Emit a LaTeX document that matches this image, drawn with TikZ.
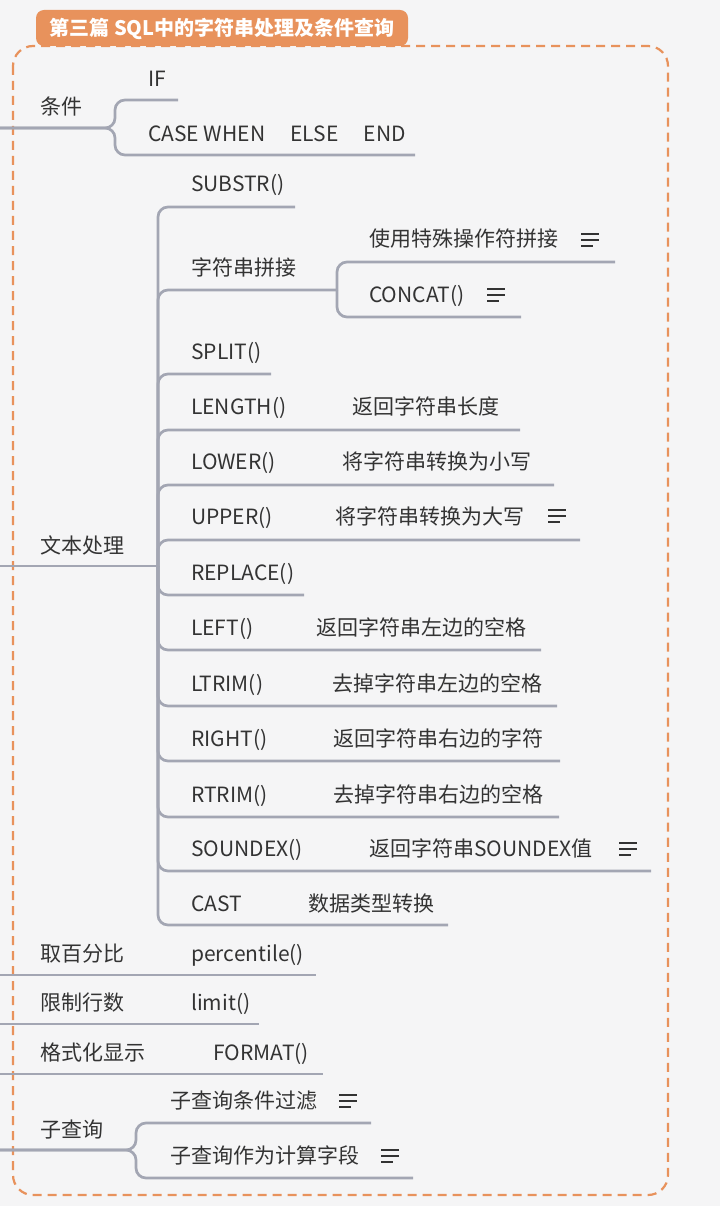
\documentclass[tikz,border=0pt]{standalone}
\usepackage{fontspec}
\setmainfont{Noto Sans CJK SC}
\definecolor{bg}{HTML}{F5F5F6}
\definecolor{ln}{HTML}{A3A6B3}
\definecolor{org}{HTML}{E8925C}
\definecolor{txt}{HTML}{333333}
\tikzset{
  br/.style={draw=ln,line width=2.7pt,rounded corners=10pt},
  lbl/.style={anchor=base west,inner sep=0pt,text=txt,font=\fontsize{21}{21}\selectfont},
  ic/.style={draw=txt,line width=1.3pt}
}
\newcommand\lf[4]{\node[lbl] (#1) at (#2,#3) {#4};}
\newcommand\note[3]{\draw[ic] (#2,#3-6)--++(18,0); \draw[ic] (#2,#3)--++(18,0); \draw[ic] (#2,#3+6)--++(12,0); \coordinate (#1) at (#2,#3);}
\begin{document}
\begin{tikzpicture}[x=1pt,y=-1pt]
\fill[bg] (0,0) rectangle (720,1206);
\useasboundingbox (0,0) rectangle (720,1206);
% title tab
\fill[org,rounded corners=8pt] (36,46) -- (36,10) -- (408,10) -- (408,46) -- cycle;
\node[text=white,font=\bfseries\fontsize{20}{20}\selectfont] (title) at (222,29) {第三篇 SQL中的字符串处理及条件查询};
\draw[org,line width=2.2pt,dash pattern=on 9pt off 6pt,rounded corners=20pt] (13,46) rectangle (668,1195);
% 条件
\coordinate (r1) at (0,128);
\draw[br] (r1) -- (115,128) -- (115,100) -- (178,100) coordinate (ifE);
\draw[br] (r1) -- (115,128) -- (115,155) -- (415,155) coordinate (caseE);
\lf{c1}{40}{115}{条件}
\lf{if}{148}{87}{IF}
\lf{case}{148}{142}{CASE WHEN\hspace{1.2em}ELSE\hspace{1.2em}END}
% 文本处理
\coordinate (r2) at (0,566);
\draw[br] (r2) -- (158,566);
\foreach \y/\e in {207/295,290/337,374/271,430/520,485/554,540/580,595/304,650/541,706/557,761/560,817/559,871/651,925/448}{
  \draw[br] (158,566) -- (158,\y) -- (\e,\y);
}
\lf{c2}{40}{553}{文本处理}
\lf{sub}{191}{192}{SUBSTR()}
\lf{pj}{191}{275}{字符串拼接}
\draw[br] (337,290) -- (337,262) -- (615,262);
\draw[br] (337,290) -- (337,317) -- (521,317);
\lf{ts}{369}{247}{使用特殊操作符拼接}
\lf{cc}{369}{302}{CONCAT()}
\lf{sp}{191}{359}{SPLIT()}
\lf{le}{191}{414}{LENGTH()}\lf{led}{352}{414}{返回字符串长度}
\lf{lo}{191}{469}{LOWER()}\lf{lod}{342}{469}{将字符串转换为小写}
\lf{up}{191}{524}{UPPER()}\lf{upd}{335}{524}{将字符串转换为大写}
\lf{re}{191}{580}{REPLACE()}
\lf{lf}{191}{635}{LEFT()}\lf{lfd}{316}{635}{返回字符串左边的空格}
\lf{lt}{191}{691}{LTRIM()}\lf{ltd}{332}{691}{去掉字符串左边的空格}
\lf{ri}{191}{746}{RIGHT()}\lf{rid}{333}{746}{返回字符串右边的字符}
\lf{rt}{191}{802}{RTRIM()}\lf{rtd}{333}{802}{去掉字符串右边的空格}
\lf{so}{191}{856}{SOUNDEX()}\lf{sod}{369}{856}{返回字符串SOUNDEX值}
\lf{ca}{191}{911}{CAST}\lf{cad}{308}{911}{数据类型转换}
% others
\coordinate (r3) at (0,975);
\draw[br] (r3) -- (316,975);
\lf{c3}{40}{961}{取百分比}\lf{pc}{191}{961}{percentile()}
\coordinate (r4) at (0,1024);
\draw[br] (r4) -- (259,1024);
\lf{c4}{40}{1010}{限制行数}\lf{lm}{191}{1010}{limit()}
\coordinate (r5) at (0,1074);
\draw[br] (r5) -- (323,1074);
\lf{c5}{40}{1060}{格式化显示}\lf{fm}{213}{1060}{FORMAT()}
% 子查询
\coordinate (r6) at (0,1150);
\draw[br] (r6) -- (136,1150) -- (136,1123) -- (371,1123);
\draw[br] (r6) -- (136,1150) -- (136,1178) -- (413,1178);
\lf{c6}{40}{1137}{子查询}
\lf{s1}{170}{1108}{子查询条件过滤}
\lf{s2}{170}{1163}{子查询作为计算字段}
% note icons
\note{n1}{581}{240}
\note{n2}{487}{295}
\note{n3}{548}{516}
\note{n4}{619}{849}
\note{n5}{339}{1101}
\note{n6}{381}{1156}
\end{tikzpicture}
\end{document}
